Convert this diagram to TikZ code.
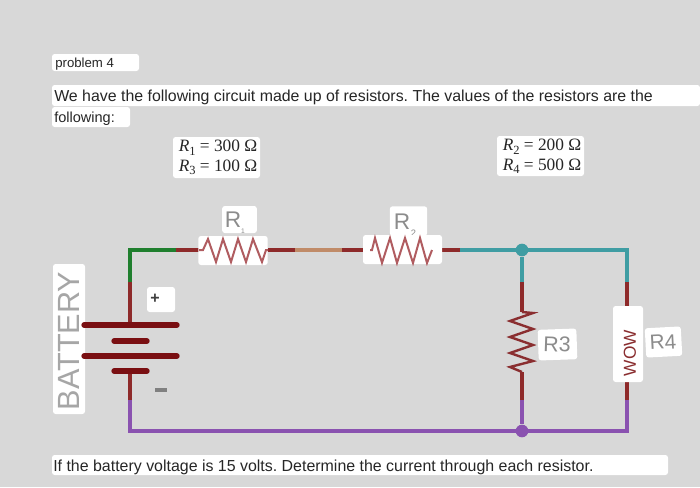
\documentclass[tikz,border=0pt]{standalone}
\usepackage[no-math]{fontspec}
\setmainfont{Liberation Sans}
\newfontfamily\valfont{Liberation Serif}
\frenchspacing
\newcommand{\rval}[2]{{\itshape R}\raisebox{-0.22em}{\scalebox{0.72}{#1}}\ =\ #2\ Ω}
\definecolor{bgc}{HTML}{D8D8D8}
\definecolor{wred}{HTML}{8E2A2A}
\definecolor{plate}{HTML}{7A0F12}
\definecolor{wgreen}{HTML}{1F7F2E}
\definecolor{wteal}{HTML}{3F9DA3}
\definecolor{wpurple}{HTML}{8A52B0}
\definecolor{wtan}{HTML}{C08B68}
\definecolor{zig}{HTML}{B05C60}
\definecolor{zigd}{HTML}{8A2E30}
\definecolor{lab}{HTML}{8C8C8C}
\definecolor{labl}{HTML}{A6A6A6}
\tikzset{
  wbox/.style={fill=white,rounded corners=2pt,inner sep=0pt,anchor=center},
  txt/.style={inner sep=0pt,text=black!85},
  wire/.style={line width=2.6pt,line cap=butt,line join=miter},
  plt/.style={line width=4pt,line cap=round,plate},
  zigl/.style={line width=1.5pt,line join=miter,zig},
  zigr/.style={line width=1.8pt,line join=miter,zigd},
  dot/.style={circle,inner sep=0pt,minimum size=9.5pt}
}
\begin{document}
\begin{tikzpicture}[x=0.75pt,y=-0.75pt]
\useasboundingbox[fill=bgc] (0,0) rectangle (700,487);
% text boxes
\node[wbox,minimum width=65.25pt,minimum height=12.75pt] (bp) at (95.5,62.5) {};
\node[txt,anchor=base west,font=\fontsize{9.9pt}{11pt}\selectfont] (tp) at (55,67) {problem 4};
\node[wbox,minimum width=486pt,minimum height=15.75pt] (bl) at (376,95.5) {};
\node[txt,anchor=base west,font=\fontsize{11.92pt}{14pt}\selectfont] (tl) at (54,101) {We have the following circuit made up of resistors. The values of the resistors are the};
\node[wbox,minimum width=58.5pt,minimum height=15pt] (bf) at (91,117) {};
\node[txt,anchor=base west,font=\fontsize{10.9pt}{13pt}\selectfont] (tf) at (54,122) {following:};
\node[wbox,minimum width=65.25pt,minimum height=30.75pt] (bv1) at (216.5,157.5) {};
\node[txt,align=left,font=\valfont\fontsize{13pt}{14.6pt}\selectfont] (tv1) at (218,157.5) {\rval{1}{300}\\\rval{3}{100}};
\node[wbox,minimum width=65.25pt,minimum height=30pt] (bv2) at (540.5,156) {};
\node[txt,align=left,font=\valfont\fontsize{13pt}{14.6pt}\selectfont] (tv2) at (542,156.5) {\rval{2}{200}\\\rval{4}{500}};
\node[wbox,minimum width=462pt,minimum height=15pt] (bb) at (360,465) {};
\node[txt,anchor=base west,font=\fontsize{11.95pt}{14pt}\selectfont] (tb) at (53,471) {If the battery voltage is 15 volts. Determine the current through each resistor.};
% named points of the circuit
\coordinate (c1) at (130,250);
\coordinate (g1) at (130,282);
\coordinate (g2) at (176,250);
\coordinate (bt) at (130,325);
\coordinate (bb2) at (130,371);
\coordinate (p1) at (130,400);
\coordinate (c2) at (130,431);
\coordinate (r1a) at (199,250);
\coordinate (r1b) at (268,250);
\coordinate (t1) at (295,250);
\coordinate (t2) at (342,250);
\coordinate (r2a) at (370,250);
\coordinate (r2b) at (432,250);
\coordinate (te) at (460,250);
\coordinate (c3) at (627,250);
\coordinate (c4) at (627,431);
\coordinate (a1) at (522,282);
\coordinate (a2) at (522,312);
\coordinate (a3) at (522,372);
\coordinate (a4) at (522,400);
\coordinate (b1) at (627,282);
\coordinate (b4) at (627,400);
% wires
\draw[wire,wred] (bt) -- (g1);
\draw[wire,wred] (bb2) -- (p1);
\draw[wire,wred] (g2) -- (r1a);
\draw[wire,wred] (r1b) -- (t1);
\draw[wire,wred] (t2) -- (r2a);
\draw[wire,wred] (r2b) -- (te);
\draw[wire,wtan] (t1) -- (t2);
\draw[wire,wgreen] (g1) -- (c1) -- (g2);
\draw[wire,wpurple] (p1) -- (c2) -- (c4) -- (b4);
\draw[wire,wteal] (te) -- (c3) -- (b1);
\node[dot,fill=wteal] (n1) at (522,250) {};
\node[dot,fill=wpurple] (n2) at (522,431) {};
\draw[wire,wteal] (n1) -- (a1);
\draw[wire,wred] (a1) -- (a2);
\draw[wire,wred] (a3) -- (a4);
\draw[wire,wpurple] (a4) -- (n2);
\draw[wire,wred] (b1) -- (b4);
% battery
\node[wbox,minimum width=24pt,minimum height=112.5pt] (bbat) at (69,339) {};
\node[txt,rotate=90,text=labl,font=\fontsize{23pt}{23pt}\selectfont] (tbat) at (69,341) {BATTERY};
\coordinate (pa) at (84,325); \coordinate (pb) at (177,325);
\coordinate (qa) at (114,341); \coordinate (qb) at (147,341);
\coordinate (ra) at (84,356); \coordinate (rb) at (177,356);
\coordinate (sa) at (114,371); \coordinate (sb) at (147,371);
\draw[plt] (pa) -- (pb);
\draw[plt] (qa) -- (qb);
\draw[plt] (ra) -- (rb);
\draw[plt] (sa) -- (sb);
\node[wbox,minimum width=21pt,minimum height=18.75pt] (bplus) at (161,299.5) {};
\node[txt,font=\fontsize{12pt}{12pt}\bfseries\selectfont,text=black!75] (tplus) at (155,299) {+};
\node[fill=gray,inner sep=0pt,minimum width=9pt,minimum height=3pt] (minus) at (161,390) {};
% R1
\node[wbox,minimum width=26pt,minimum height=20.25pt] (bl1) at (239.5,219.5) {};
\node[txt,text=lab,font=\fontsize{17pt}{17pt}\selectfont] (tl1) at (233,220) {R};
\node[txt,text=lab,font=\fontsize{5pt}{5pt}\selectfont] (sl1) at (243,231) {1};
\node[wbox,minimum width=52pt,minimum height=21.75pt] (br1) at (233,250.5) {};
\draw[zigl] (r1a) -- (203,250) -- (208,239) -- (216,262) -- (223,239) -- (231,262) -- (238,239) -- (246,262) -- (253,239) -- (262,262) -- (266,250) -- (r1b);
% R2
\node[wbox,minimum width=28pt,minimum height=22pt] (bl2) at (408.5,221) {};
\node[txt,text=lab,font=\fontsize{17pt}{17pt}\selectfont] (tl2) at (402,222) {R};
\node[txt,text=lab,font=\fontsize{7pt}{7pt}\selectfont] (sl2) at (413.5,233.5) {2};
\node[wbox,minimum width=59.25pt,minimum height=21.75pt] (br2) at (402.5,249.5) {};
\draw[zigl] (r2a) -- (372,250) -- (375,238) -- (382,263) -- (390,238) -- (397,263) -- (405,238) -- (413,263) -- (420,238) -- (427,263) -- (r2b);
% R3
\draw[zigr] (a2) -- (533,313) -- (510,321) -- (533,329) -- (510,337) -- (533,345) -- (510,353) -- (533,361) -- (510,367) -- (a3);
\node[wbox,rotate=2,minimum width=29pt,minimum height=23pt] (bl3) at (557.5,344.5) {};
\node[txt,text=lab,rotate=-2,font=\fontsize{16pt}{16pt}\selectfont] (tl3) at (557,344.5) {R3};
% R4
\node[wbox,minimum width=22.5pt,minimum height=57pt] (br4) at (628,344) {};
\node[txt,rotate=90,text=zigd,font=\fontsize{13pt}{13pt}\selectfont] (tr4) at (630,353) {WOW};
\node[wbox,rotate=3,minimum width=27pt,minimum height=22pt] (bl4) at (663.5,342) {};
\node[txt,text=lab,rotate=3,font=\fontsize{15.5pt}{15.5pt}\selectfont] (tl4) at (663,342) {R4};
\end{tikzpicture}
\end{document}
